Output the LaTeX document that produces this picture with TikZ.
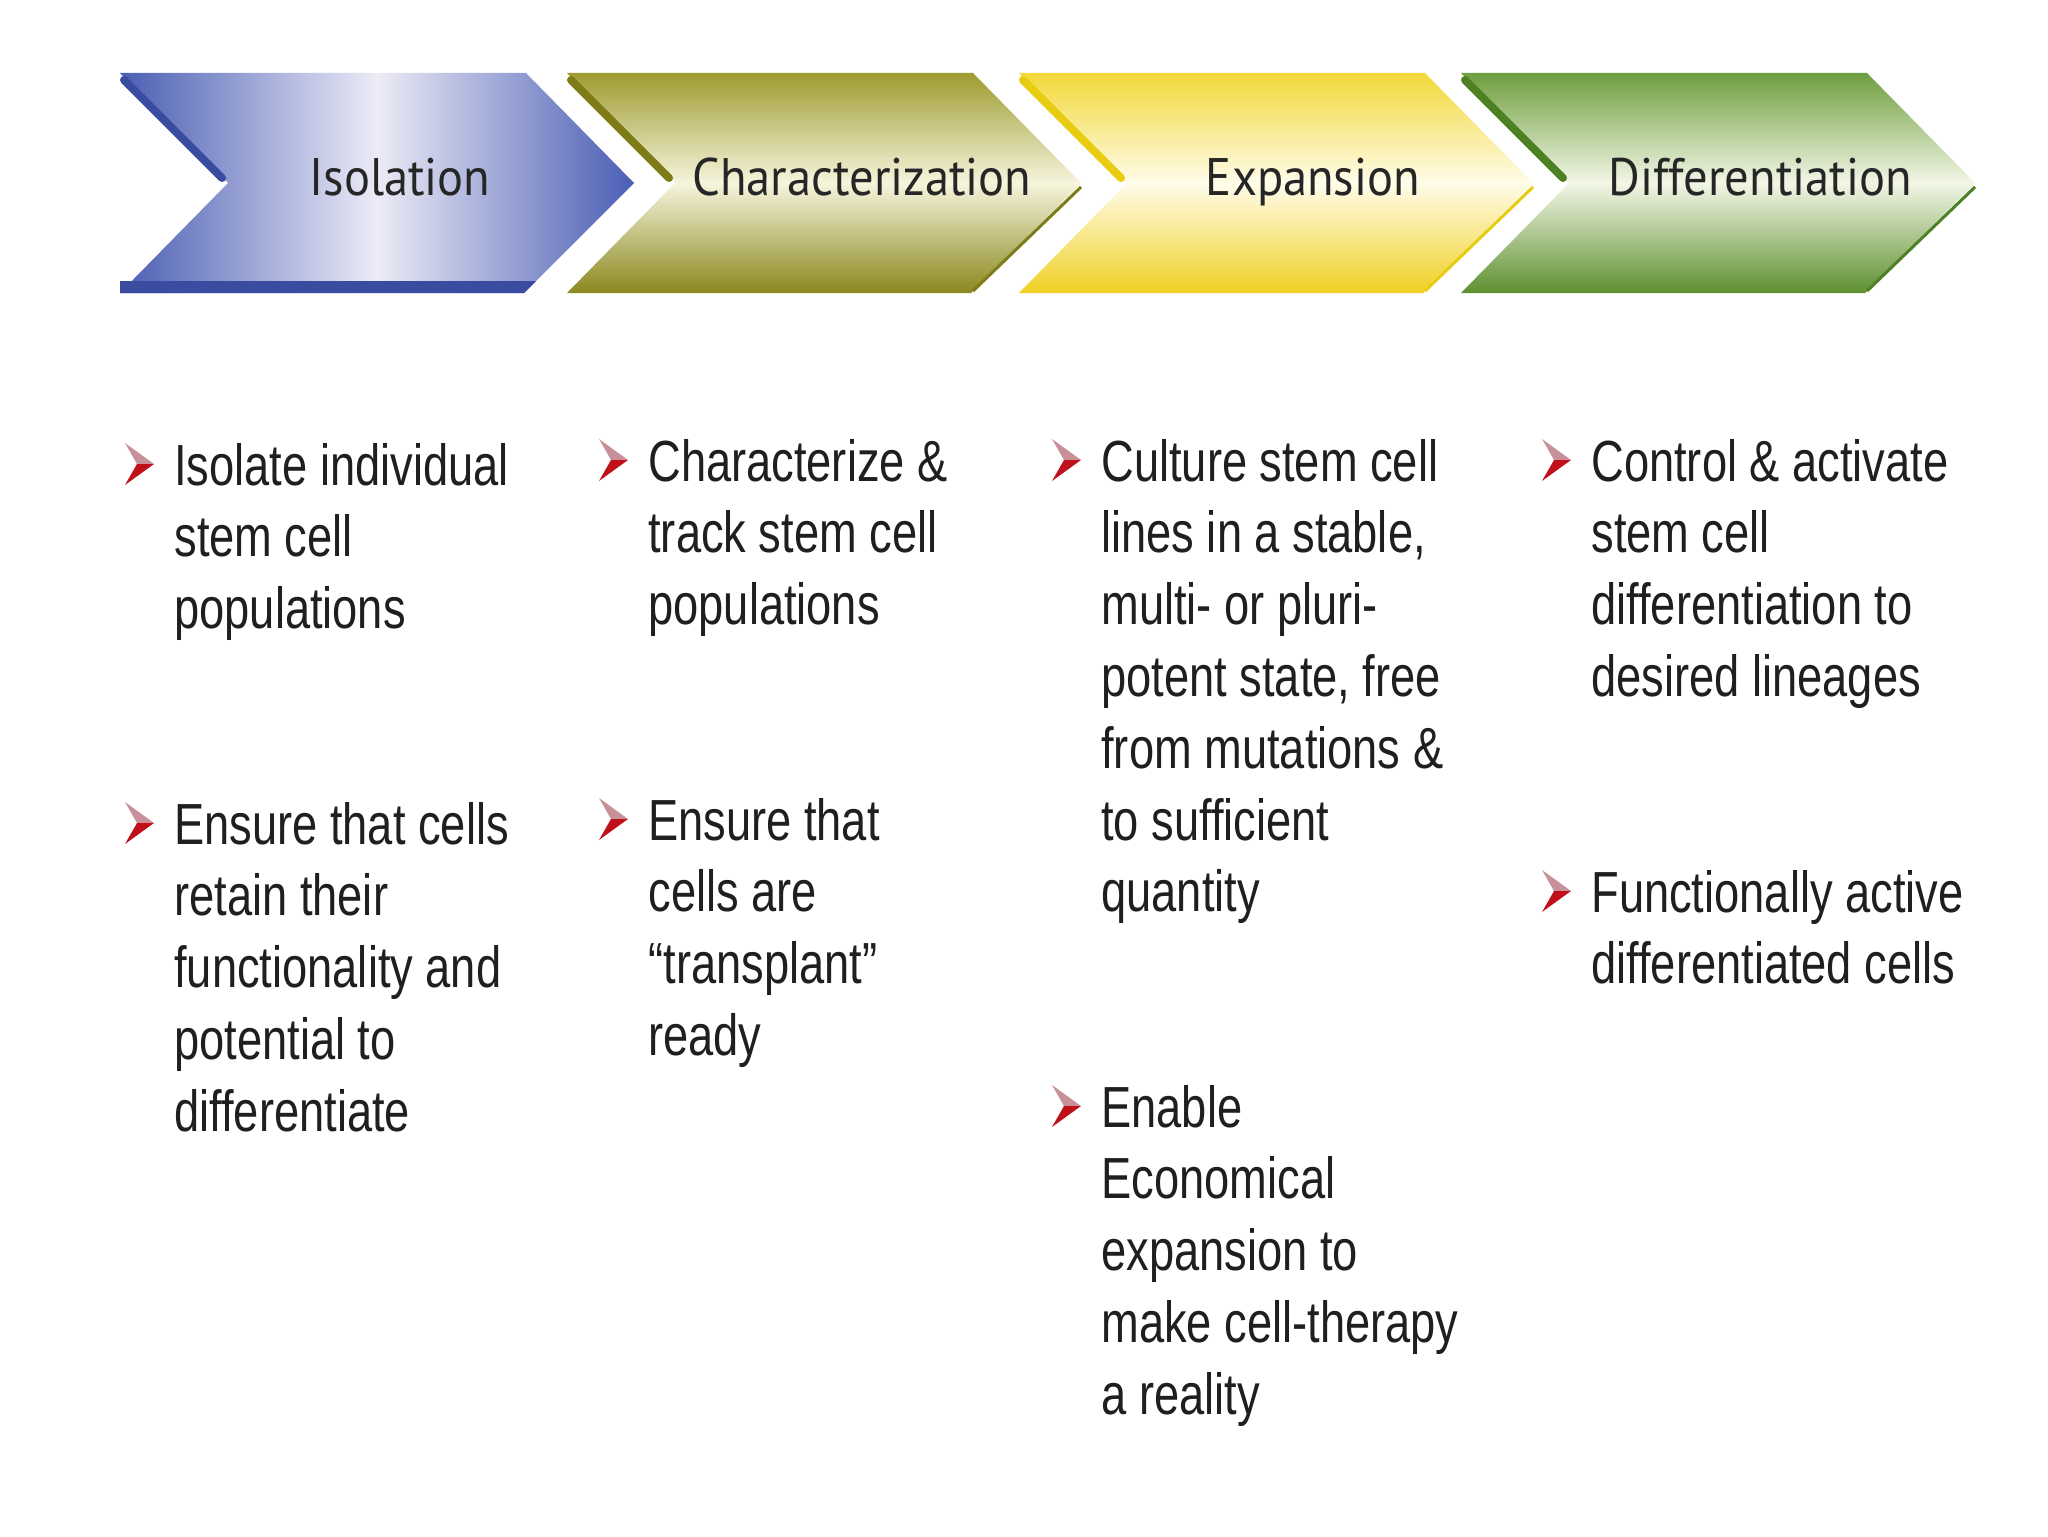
\documentclass[tikz,border=0pt]{standalone}
\usepackage{fontspec}
\newfontfamily\bodyfont[FakeStretch=0.78]{Liberation Sans}
\newfontfamily\headfont[FakeStretch=0.92]{PT Sans}
\definecolor{blueE}{HTML}{4A5EB4}
\definecolor{blueM}{HTML}{ECEBF6}
\definecolor{blueD}{HTML}{3A4CA0}
\definecolor{oliveT}{HTML}{9E9C30}
\definecolor{oliveM}{HTML}{F6F4DC}
\definecolor{oliveB}{HTML}{8A881E}
\definecolor{oliveD}{HTML}{7E7C18}
\definecolor{yelT}{HTML}{F2D838}
\definecolor{yelM}{HTML}{FFFCEA}
\definecolor{yelB}{HTML}{F0D024}
\definecolor{yelD}{HTML}{E8CC10}
\definecolor{grnT}{HTML}{6E9E3E}
\definecolor{grnM}{HTML}{F2F6E6}
\definecolor{grnB}{HTML}{5E9030}
\definecolor{grnD}{HTML}{4E8024}
\definecolor{bulR}{HTML}{C0101A}
\definecolor{bulL}{HTML}{C89098}
\newcommand{\bodylines}[1]{\begin{tabular}[t]{@{}l@{}}#1\end{tabular}}
\tikzset{
  headlbl/.style={font=\headfont\fontsize{26.4}{30}\selectfont, text=black!85, inner sep=0pt, anchor=base},
  bodytxt/.style={font=\bodyfont\fontsize{29}{35.9}\selectfont, text=black!88, inner sep=0pt, anchor=base west},
  pics/bul/.style={code={
    \fill[bulL] (-15,-21) -- (14,0) -- (-3,0) -- cycle;
    \fill[bulR] (-15,21) -- (14,0) -- (-3,0) -- cycle;
  }}
}
\newcommand{\chevpath}[1]{(#1,73) -- (#1+406,73) -- (#1+514,183) -- (#1+404,293) -- (#1,293) -- (#1+108,183) -- cycle}
\begin{document}
\begin{tikzpicture}[x=0.5pt,y=-0.5pt]
\useasboundingbox (0,0) rectangle (2048,1536);
\fill[white] (0,0) rectangle (2048,1536);
% chevrons
\shade[left color=blueE, right color=blueE, middle color=blueM] \chevpath{120};
\fill[blueD] (120,281) -- (536,281) -- (524,293) -- (120,293) -- cycle;
\draw[blueD, line width=4pt, line cap=round] (124,80) -- (222,178);
\shade[top color=oliveT, bottom color=oliveB, middle color=oliveM] \chevpath{567};
\draw[oliveD, line width=4pt, line cap=round] (571,80) -- (669,178);
\draw[oliveD, line width=1.5pt] (1081,187) -- (973,291);
\shade[top color=yelT, bottom color=yelB, middle color=yelM] \chevpath{1019};
\draw[yelD, line width=4pt, line cap=round] (1023,80) -- (1121,178);
\draw[yelD, line width=1.5pt] (1533,187) -- (1425,291);
\shade[top color=grnT, bottom color=grnB, middle color=grnM] \chevpath{1461};
\draw[grnD, line width=4pt, line cap=round] (1465,80) -- (1563,178);
\draw[grnD, line width=1.5pt] (1975,187) -- (1867,291);
% heading labels
\node[headlbl] (h1) at (400,195) {Isolation};
\node[headlbl] (h2) at (862,195) {Characterization};
\node[headlbl] (h3) at (1313,195) {Expansion};
\node[headlbl] (h4) at (1760,195) {Differentiation};
% column 1
\pic at (140,464) {bul};
\node[bodytxt] (c1a) at (174,485) {\bodylines{Isolate individual\\stem cell\\populations}};
\pic at (140,823) {bul};
\node[bodytxt] (c1b) at (174,844) {\bodylines{Ensure that cells\\retain their\\functionality and\\potential to\\differentiate}};
% column 2
\pic at (614,460) {bul};
\node[bodytxt] (c2a) at (648,481) {\bodylines{Characterize \&\\track stem cell\\populations}};
\pic at (614,819) {bul};
\node[bodytxt] (c2b) at (648,840) {\bodylines{Ensure that\\cells are\\“transplant”\\ready}};
% column 3
\pic at (1067,460) {bul};
\node[bodytxt] (c3a) at (1101,481) {\bodylines{Culture stem cell\\lines in a stable,\\multi- or pluri-\\potent state, free\\from mutations \&\\to sufficient\\quantity}};
\pic at (1067,1106) {bul};
\node[bodytxt] (c3b) at (1101,1127) {\bodylines{Enable\\Economical\\expansion to\\make cell-therapy\\a reality}};
% column 4
\pic at (1557,460) {bul};
\node[bodytxt] (c4a) at (1591,481) {\bodylines{Control \& activate\\stem cell\\differentiation to\\desired lineages}};
\pic at (1557,891) {bul};
\node[bodytxt] (c4b) at (1591,912) {\bodylines{Functionally active\\differentiated cells}};
\end{tikzpicture}
\end{document}
